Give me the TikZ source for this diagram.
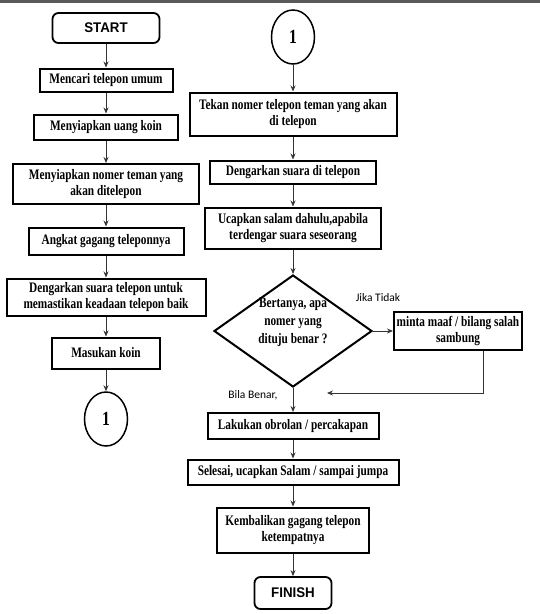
\documentclass[tikz,border=0pt]{standalone}
\usepackage{fontspec}
\setmainfont{Liberation Serif}[FakeStretch=0.78]
\newfontfamily\judul{Liberation Sans}[FakeStretch=0.95]
\newfontfamily\catatan{Carlito}
\usetikzlibrary{shapes.geometric,arrows.meta}

\begin{document}
\begin{tikzpicture}[x=1pt,y=-1pt,
            proses/.style={draw,line width=2pt,inner sep=0pt,align=center,font=\fontsize{14.5}{16.5}\selectfont\bfseries},
            terminal/.style={draw,line width=1.8pt,rounded corners=6pt,inner sep=0pt,font=\fontsize{14}{16}\selectfont\judul\bfseries},
            sambung/.style={draw,ellipse,line width=1.5pt,inner sep=0pt,minimum width=43pt,minimum height=54pt,font=\fontsize{20}{20}\selectfont\bfseries},
            keputusan/.style={draw,diamond,line width=2pt,inner sep=0pt,minimum width=158pt,minimum height=112pt},
            isi/.style={align=center,yshift=9pt,font=\fontsize{14.5}{18}\selectfont\bfseries},
            ket/.style={font=\fontsize{11.5}{12}\selectfont\catatan},
            panah/.style={-{Stealth[length=6pt,width=5pt]},line width=0.8pt,draw=black!80}]
            \useasboundingbox (0,0) rectangle (540,614);
            \fill[black!65] (0,0) rectangle (540,2.5);

            \node[terminal,minimum width=107pt,minimum height=30pt] (start) at (106,28) {START};
            \node[proses,minimum width=133pt,minimum height=23pt] (cari) at (106,80) {Mencari telepon umum};
            \node[proses,minimum width=144pt,minimum height=25pt] (uang) at (106,127) {Menyiapkan uang koin};
            \node[proses,minimum width=186pt,minimum height=40pt] (nomer) at (106,184) {Menyiapkan nomer teman yang\\akan ditelepon};
            \node[proses,minimum width=155pt,minimum height=27pt] (angkat) at (106,241) {Angkat gagang teleponnya};
            \node[proses,minimum width=199pt,minimum height=37pt] (dengar) at (106,297) {Dengarkan suara telepon untuk\\memastikan keadaan telepon baik};
            \node[proses,minimum width=108pt,minimum height=31pt] (koin) at (106,353) {Masukan koin};
            \node[sambung] (satukiri) at (106,419) {1};

            \node[sambung] (satukanan) at (293,37) {1};
            \node[proses,minimum width=207pt,minimum height=43pt] (tekan) at (293,114) {Tekan nomer telepon teman yang akan\\di telepon};
            \node[proses,minimum width=166pt,minimum height=23pt] (suara) at (293,172) {Dengarkan suara di telepon};
            \node[proses,minimum width=176pt,minimum height=41pt] (salam) at (293,228) {Ucapkan salam dahulu,apabila\\terdengar suara seseorang};
            \node[keputusan,label={[isi]center:Bertanya, apa\\nomer yang\\dituju benar ?}] (tanya) at (293,331) {};
            \node[proses,minimum width=128pt,minimum height=38pt] (maaf) at (458,331) {minta maaf / bilang salah\\sambung};
            \node[proses,minimum width=171pt,minimum height=26pt] (obrol) at (293,426) {Lakukan obrolan / percakapan};
            \node[proses,minimum width=211pt,minimum height=25pt] (selesai) at (293,472) {Selesai, ucapkan Salam / sampai jumpa};
            \node[proses,minimum width=152pt,minimum height=45pt] (kembali) at (293,530) {Kembalikan gagang telepon\\ketempatnya};
            \node[terminal,minimum width=77pt,minimum height=32pt] (finish) at (293,593) {FINISH};
            \coordinate (balik) at (327,393);
            \node[ket] (tidak) at (378,298) {Jika Tidak};
            \node[ket] (benar) at (253,395) {Bila Benar,};

            \foreach \a/\b in {start/cari,cari/uang,uang/nomer,nomer/angkat,angkat/dengar,dengar/koin,koin/satukiri,
                satukanan/tekan,tekan/suara,suara/salam,salam/tanya,tanya/obrol,obrol/selesai,selesai/kembali,kembali/finish}
                \draw[panah] (\a) -- (\b);
            \draw[panah] (tanya) -- (maaf);
            \draw[panah] ([xshift=25pt]maaf.south) |- (balik);
        \end{tikzpicture}
\end{document}
